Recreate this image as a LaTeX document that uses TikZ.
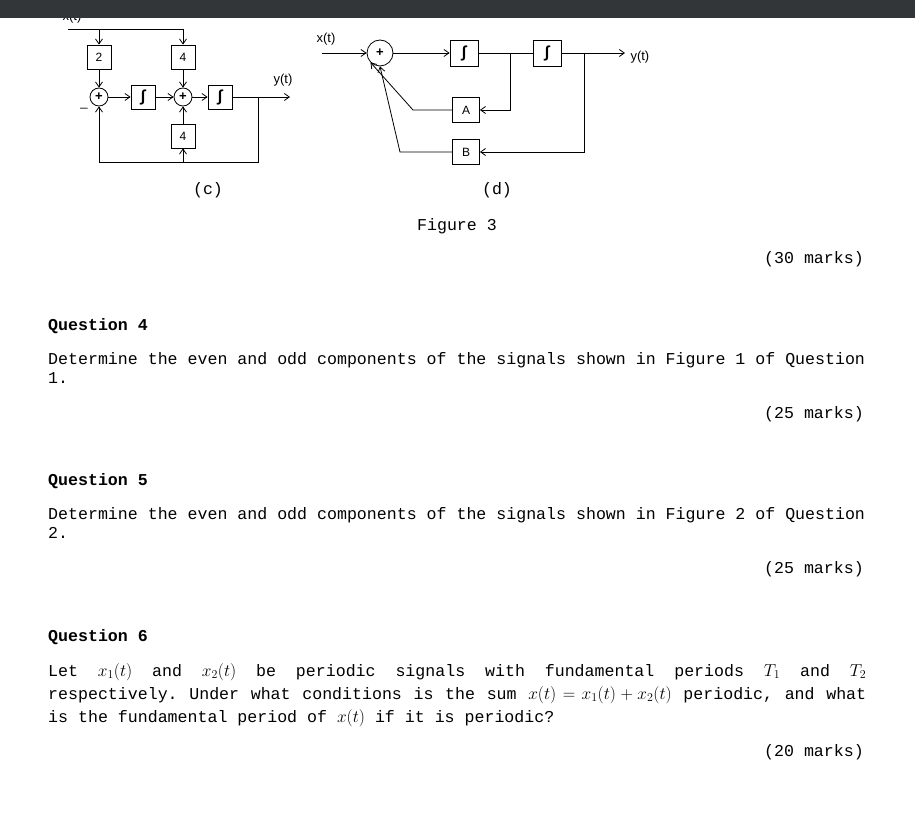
\documentclass[tikz,border=0pt]{standalone}
\usepackage{fontspec}
\setmainfont{Liberation Mono}
\newfontfamily\dsans{Liberation Sans}
\usetikzlibrary{arrows.meta}
\frenchspacing
\begin{document}
\begin{tikzpicture}[x=1pt,y=-1pt,
  blk/.style={draw,thick,minimum width=24pt,minimum height=24pt,inner sep=0pt,font=\dsans\fontsize{12}{12}\selectfont},
  sumc/.style={draw,thick,circle,minimum size=#1,inner sep=0pt,font=\dsans\bfseries\fontsize{13}{13}\selectfont},
  sumc/.default=18pt,
  ln/.style={draw,thick},
  ar/.style={ln,-{Straight Barb[length=5pt,width=7pt]}},
  dl/.style={font=\dsans\fontsize{13}{13}\selectfont},
  tx/.style={anchor=base west,inner sep=0pt,font=\fontsize{16.6}{20}\selectfont},
  tr/.style={anchor=base east,inner sep=0pt,font=\fontsize{16.6}{20}\selectfont}]
\useasboundingbox (0,0) rectangle (915,829);
\newcommand\integ{{\fontsize{16}{16}\selectfont\bfseries ∫}}
% ---- (c)
\node[dl] (cx) at (72,17) {x(t)};
\coordinate (ct) at (68,29);
\node[blk] (c2) at (99,57) {2};
\node[blk] (c4a) at (183,57) {4};
\node[sumc] (cs1) at (99,97) {+};
\node[blk] (ci1) at (143,97) {\integ};
\node[sumc] (cs2) at (183,97) {+};
\node[blk] (ci2) at (220,97) {\integ};
\node[blk] (c4b) at (183,136) {4};
\coordinate (cj) at (258,97);
\coordinate (co) at (290,97);
\node[dl] at (283,80) {y(t)};
\node[dl] at (84,108) {\_};
\draw[ln] (ct) -- (183,29);
\draw[ar] (99,29) -- (c2);
\draw[ar] (183,29) -- (c4a);
\draw[ar] (c2) -- (cs1);
\draw[ar] (cs1) -- (ci1);
\draw[ar] (ci1) -- (cs2);
\draw[ar] (c4a) -- (cs2);
\draw[ar] (cs2) -- (ci2);
\draw[ar] (ci2) -- (co);
\draw[ar] (c4b) -- (cs2);
\draw[ar] (cj) -- (258,162) -- (99,162) -- (cs1);
\draw[ar] (183,162) -- (c4b);
% ---- (d)
\node[dl] (dx) at (326,39) {x(t)};
\coordinate (dxi) at (322,53);
\node[sumc=26pt] (ds) at (380,53) {+};
\node[blk,minimum width=28pt,minimum height=26pt] (di1) at (464,53) {\integ};
\node[blk,minimum width=28pt,minimum height=26pt] (di2) at (547,53) {\integ};
\node[blk,minimum width=27pt,minimum height=25pt] (dA) at (466,110) {A};
\node[blk,minimum width=27pt,minimum height=25pt] (dB) at (466,152) {B};
\coordinate (dy) at (625,53);
\node[dl,anchor=west] at (627,57) {y(t)};
\draw[ar] (dxi) -- (ds);
\draw[ar] (ds) -- (di1);
\draw[ln] (di1) -- (di2);
\draw[ar] (di2) -- (dy);
\draw[ar] (510,53) -- (510,110) -- (dA);
\draw[ar] (584,53) -- (584,152) -- (dB);
\draw[ar] (dA.west) -- (413,110) -- (ds.south west);
\draw[ar] (dB.west) -- (400,152) -- (ds.south);
% top bar
\fill[fill={rgb,255:red,50;green,54;blue,57}] (0,0) rectangle (915,18);
% labels
\node[tx,anchor=base] at (208,195) {(c)};
\node[tx,anchor=base] at (497,195) {(d)};
\node[tx,anchor=base] at (457,230) {Figure 3};
\node[tr] at (864,263) {(30 marks)};
\node[tx] at (48,330) {\bfseries Question 4};
\node[tx] at (48,364) {Determine the even and odd components of the signals shown in Figure 1 of Question};
\node[tx] at (48,383) {1.};
\node[tr] at (864,418) {(25 marks)};
\node[tx] at (48,485) {\bfseries Question 5};
\node[tx] at (48,519) {Determine the even and odd components of the signals shown in Figure 2 of Question};
\node[tx] at (48,538) {2.};
\node[tr] at (864,573) {(25 marks)};
\node[tx] at (48,641) {\bfseries Question 6};
\node[tx] at (48,676) {\makebox[818pt][s]{Let $x_1(t)$ and $x_2(t)$ be periodic signals with fundamental periods $T_1$ and $T_2$}};
\node[tx] at (48,699) {\makebox[818pt][s]{respectively. Under what conditions is the sum $x(t) = x_1(t) + x_2(t)$ periodic, and what}};
\node[tx] at (48,722) {is the fundamental period of $x(t)$ if it is periodic?};
\node[tr] at (864,756) {(20 marks)};
\end{tikzpicture}
\end{document}
